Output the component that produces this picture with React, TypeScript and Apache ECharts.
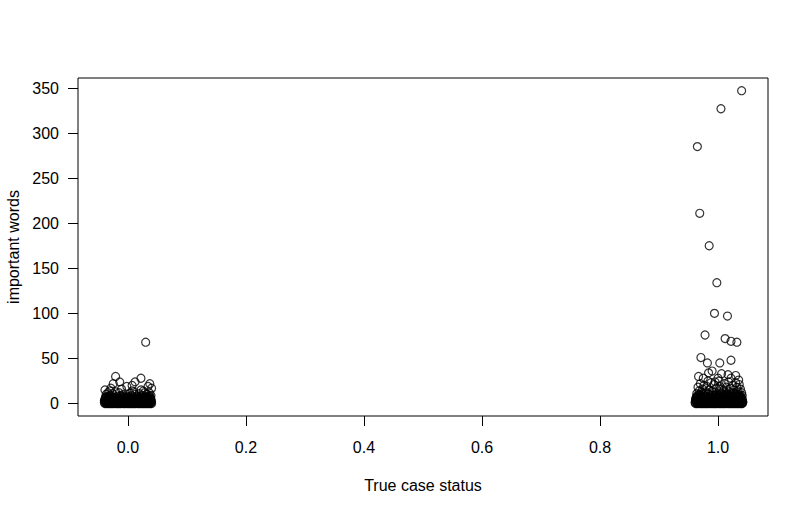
import React, { useEffect, useRef } from "react";
import * as echarts from "echarts";

const xTickValues = [0, 0.2, 0.4, 0.6, 0.8, 1.0];
const yTickValues = [0, 50, 100, 150, 200, 250, 300, 350];
const xAxisTitle = "True case status";
const yAxisTitle = "important words";

// True case status 0 (jittered): [status, important words]
const status0Points: [number, number][] = [
  [-0.039, 0], [-0.034, 0], [-0.030, 0], [-0.026, 0], [-0.021, 0], [-0.017, 0], [-0.013, 0],
  [-0.008, 0], [-0.004, 0], [0.001, 0], [0.005, 0], [0.009, 0], [0.013, 0], [0.018, 0],
  [0.022, 0], [0.026, 0], [0.030, 0], [0.034, 0], [0.038, 0], [-0.024, 0], [0.016, 0],
  [-0.037, 0], [-0.032, 0], [-0.028, 0], [-0.019, 0], [-0.015, 0], [-0.011, 0], [-0.006, 0],
  [-0.001, 0], [0.003, 0], [0.007, 0], [0.011, 0], [0.020, 0], [0.024, 0], [0.028, 0],
  [0.032, 0], [0.036, 0], [0.040, 0],
  [-0.037, 1], [-0.032, 1], [-0.027, 1], [-0.019, 1], [-0.011, 1], [-0.006, 1], [0.000, 1],
  [0.007, 1], [0.012, 1], [0.020, 1], [0.025, 1], [0.031, 1], [0.036, 1], [-0.015, 1], [0.003, 1],
  [-0.040, 1], [-0.035, 1], [-0.030, 1], [-0.024, 1], [-0.021, 1], [-0.013, 1], [-0.009, 1],
  [-0.003, 1], [0.005, 1], [0.010, 1], [0.015, 1], [0.018, 1], [0.023, 1], [0.028, 1],
  [0.034, 1], [0.039, 1],
  [-0.038, 2], [-0.029, 2], [-0.023, 2], [-0.016, 2], [-0.009, 2], [-0.002, 2], [0.004, 2],
  [0.010, 2], [0.017, 2], [0.024, 2], [0.029, 2], [0.037, 2],
  [-0.034, 2], [-0.026, 2], [-0.019, 2], [-0.012, 2], [-0.006, 2], [0.001, 2], [0.007, 2],
  [0.013, 2], [0.020, 2], [0.027, 2], [0.033, 2], [0.040, 2],
  [-0.036, 3], [-0.028, 3], [-0.020, 3], [-0.012, 3], [-0.005, 3], [0.002, 3], [0.008, 3],
  [0.015, 3], [0.021, 3], [0.028, 3], [0.035, 3],
  [-0.040, 3], [-0.032, 3], [-0.024, 3], [-0.016, 3], [-0.008, 3], [0.000, 3], [0.005, 3],
  [0.011, 3], [0.018, 3], [0.025, 3], [0.031, 3], [0.039, 3],
  [-0.039, 4], [-0.031, 4], [-0.022, 4], [-0.014, 4], [-0.003, 4], [0.006, 4], [0.013, 4],
  [0.023, 4], [0.032, 4], [0.038, 4],
  [-0.035, 4], [-0.027, 4], [-0.018, 4], [-0.009, 4], [0.001, 4], [0.009, 4], [0.017, 4],
  [0.027, 4], [0.035, 4],
  [-0.035, 5], [-0.025, 5], [-0.017, 5], [-0.007, 5], [0.004, 5], [0.011, 5], [0.019, 5],
  [0.027, 5], [0.036, 5],
  [-0.039, 5], [-0.030, 5], [-0.021, 5], [-0.012, 5], [-0.002, 5], [0.008, 5], [0.015, 5],
  [0.023, 5], [0.032, 5], [0.039, 5],
  [-0.038, 6], [-0.028, 6], [-0.010, 6], [0.000, 6], [0.014, 6], [0.026, 6], [0.033, 6],
  [-0.033, 6], [-0.023, 6], [-0.016, 6], [-0.005, 6], [0.005, 6], [0.010, 6], [0.020, 6],
  [0.030, 6], [0.038, 6],
  [-0.033, 7], [-0.021, 7], [-0.004, 7], [0.009, 7], [0.021, 7], [0.037, 7],
  [-0.038, 7], [-0.027, 7], [-0.012, 7], [0.002, 7], [0.015, 7], [0.028, 7], [0.033, 7],
  [-0.036, 8], [-0.018, 8], [-0.001, 8], [0.016, 8], [0.030, 8],
  [-0.030, 8], [-0.009, 8], [0.008, 8], [0.023, 8], [0.037, 8],
  [-0.030, 9], [-0.012, 9], [0.006, 9], [0.024, 9], [0.039, 9],
  [-0.037, 10], [-0.008, 10], [0.012, 10], [0.031, 10],
  [-0.026, 11], [0.003, 11], [0.019, 11],
  [-0.034, 12], [-0.015, 12], [0.028, 12], [0.036, 12],
  [-0.021, 13], [0.010, 13],
  [-0.031, 14], [0.007, 14], [0.026, 14],
  [-0.039, 15], [0.022, 15],
  [-0.011, 16],
  [-0.029, 17], [0.040, 17],
  [-0.002, 19], [0.034, 19],
  [0.007, 20],
  [-0.025, 22], [0.037, 22],
  [-0.014, 24], [0.012, 24],
  [0.022, 28],
  [-0.021, 30],
  [0.030, 68],
];

// True case status 1 (jittered): [status, important words]
const status1Points: [number, number][] = [
  [0.962, 0], [0.966, 0], [0.971, 0], [0.975, 0], [0.979, 0], [0.983, 0], [0.988, 0], [0.992, 0],
  [0.996, 0], [1.001, 0], [1.005, 0], [1.009, 0], [1.013, 0], [1.018, 0], [1.022, 0], [1.026, 0],
  [1.030, 0], [1.034, 0], [1.038, 0], [1.041, 0], [0.985, 0], [1.016, 0],
  [0.964, 0], [0.969, 0], [0.973, 0], [0.977, 0], [0.981, 0], [0.990, 0], [0.994, 0], [0.998, 0],
  [1.003, 0], [1.007, 0], [1.011, 0], [1.020, 0], [1.024, 0], [1.028, 0], [1.032, 0], [1.036, 0],
  [1.040, 0],
  [0.964, 1], [0.969, 1], [0.977, 1], [0.986, 1], [0.994, 1], [1.000, 1], [1.007, 1], [1.015, 1],
  [1.020, 1], [1.028, 1], [1.033, 1], [1.040, 1], [0.981, 1],
  [0.961, 1], [0.967, 1], [0.973, 1], [0.979, 1], [0.984, 1], [0.989, 1], [0.997, 1], [1.003, 1],
  [1.010, 1], [1.013, 1], [1.018, 1], [1.023, 1], [1.026, 1], [1.031, 1], [1.036, 1], [1.042, 1],
  [0.963, 2], [0.972, 2], [0.980, 2], [0.990, 2], [0.998, 2], [1.004, 2], [1.011, 2], [1.019, 2],
  [1.025, 2], [1.031, 2], [1.039, 2],
  [0.967, 2], [0.976, 2], [0.985, 2], [0.994, 2], [1.001, 2], [1.008, 2], [1.015, 2], [1.022, 2],
  [1.028, 2], [1.035, 2], [1.042, 2],
  [0.967, 3], [0.974, 3], [0.984, 3], [0.993, 3], [1.002, 3], [1.010, 3], [1.017, 3], [1.024, 3],
  [1.036, 3],
  [0.962, 3], [0.971, 3], [0.979, 3], [0.988, 3], [0.997, 3], [1.006, 3], [1.013, 3], [1.021, 3],
  [1.028, 3], [1.032, 3], [1.040, 3],
  [0.962, 4], [0.970, 4], [0.978, 4], [0.989, 4], [0.997, 4], [1.006, 4], [1.014, 4], [1.023, 4],
  [1.032, 4], [1.041, 4],
  [0.966, 4], [0.974, 4], [0.983, 4], [0.993, 4], [1.001, 4], [1.010, 4], [1.018, 4], [1.027, 4],
  [1.036, 4],
  [0.965, 5], [0.976, 5], [0.987, 5], [0.995, 5], [1.003, 5], [1.012, 5], [1.021, 5], [1.029, 5],
  [1.037, 5],
  [0.962, 5], [0.970, 5], [0.981, 5], [0.991, 5], [0.999, 5], [1.008, 5], [1.016, 5], [1.025, 5],
  [1.033, 5], [1.041, 5],
  [0.968, 6], [0.982, 6], [0.991, 6], [1.008, 6], [1.018, 6], [1.027, 6], [1.035, 6],
  [0.964, 6], [0.975, 6], [0.987, 6], [0.995, 6], [1.003, 6], [1.013, 6], [1.022, 6], [1.031, 6],
  [1.039, 6],
  [0.963, 7], [0.973, 7], [0.986, 7], [0.999, 7], [1.011, 7], [1.025, 7], [1.039, 7],
  [0.968, 7], [0.979, 7], [0.992, 7], [1.005, 7], [1.018, 7], [1.032, 7],
  [0.970, 8], [0.979, 8], [0.994, 8], [1.005, 8], [1.020, 8], [1.033, 8],
  [0.964, 8], [0.986, 8], [0.999, 8], [1.012, 8], [1.027, 8], [1.039, 8],
  [0.966, 9], [0.988, 9], [1.001, 9], [1.015, 9], [1.029, 9], [1.041, 9],
  [0.972, 9], [0.994, 9], [1.008, 9], [1.022, 9], [1.035, 9],
  [0.975, 10], [0.996, 10], [1.009, 10], [1.023, 10], [1.036, 10],
  [0.969, 10], [0.986, 10], [1.016, 10], [1.030, 10],
  [0.964, 11], [0.983, 11], [1.004, 11], [1.031, 11],
  [0.971, 12], [0.992, 12], [1.013, 12], [1.026, 12], [1.040, 12],
  [0.979, 13], [1.002, 13], [1.019, 13],
  [0.968, 14], [0.990, 14], [1.034, 14],
  [0.985, 15], [1.010, 15], [1.027, 15],
  [0.974, 16], [1.006, 16], [1.038, 16],
  [0.997, 17], [1.021, 17],
  [0.966, 18], [1.014, 18], [1.032, 18],
  [0.981, 19], [1.003, 19],
  [0.976, 20], [1.025, 20],
  [0.993, 21], [1.036, 21],
  [0.970, 22], [1.011, 22],
  [0.988, 23], [1.030, 23],
  [0.995, 24], [1.018, 24],
  [0.983, 25], [1.002, 25],
  [1.035, 26],
  [0.975, 28], [1.000, 28], [1.022, 28],
  [0.967, 30], [1.030, 31],
  [1.017, 32], [1.006, 33],
  [0.984, 34], [0.990, 36],
  [0.982, 45], [1.003, 45], [1.022, 48], [0.971, 51],
  [1.032, 68], [1.022, 69], [1.012, 72], [0.978, 76],
  [1.016, 97], [0.994, 100], [0.998, 134], [0.985, 175],
  [0.969, 211], [0.965, 285], [1.005, 327], [1.040, 347],
];

const FONT = "'Liberation Sans', Arial, Helvetica, sans-serif";

export default function App() {
  const ref = useRef<HTMLDivElement>(null);

  useEffect(() => {
    if (!ref.current) return;
    const chart = echarts.init(ref.current, undefined, { renderer: "svg" });
    const pointStyle = {
      color: "rgba(0,0,0,0)",
      borderColor: "#000",
      borderWidth: 1.2,
    };
    chart.setOption({
      animation: false,
      backgroundColor: "#ffffff",
      textStyle: { fontFamily: FONT },
      grid: {
        left: 78,
        right: 41,
        top: 78,
        bottom: 99,
        show: true,
        borderColor: "#000",
        borderWidth: 1,
        backgroundColor: "transparent",
      },
      xAxis: {
        type: "value",
        min: -0.0847,
        max: 1.0847,
        axisLine: { show: false, onZero: false },
        splitLine: { show: false },
        axisTick: {
          show: true,
          customValues: xTickValues,
          length: 10,
          lineStyle: { color: "#000", width: 1 },
        },
        axisLabel: {
          show: true,
          customValues: xTickValues,
          formatter: (v: number) => v.toFixed(1),
          color: "#000",
          fontSize: 16,
          fontFamily: FONT,
          margin: 23,
        },
      },
      yAxis: {
        type: "value",
        min: -13.87,
        max: 361.1,
        axisLine: { show: false, onZero: false },
        splitLine: { show: false },
        axisTick: {
          show: true,
          customValues: yTickValues,
          length: 10,
          lineStyle: { color: "#000", width: 1 },
        },
        axisLabel: {
          show: true,
          customValues: yTickValues,
          formatter: (v: number) => String(v),
          color: "#000",
          fontSize: 16,
          fontFamily: FONT,
          margin: 19,
        },
      },
      graphic: [
        {
          type: "text",
          x: 423,
          y: 485,
          style: {
            text: xAxisTitle,
            fill: "#000",
            font: `16px ${FONT}`,
            align: "center",
            verticalAlign: "middle",
          },
        },
        {
          type: "text",
          x: 13,
          y: 247,
          rotation: Math.PI / 2,
          style: {
            text: yAxisTitle,
            fill: "#000",
            font: `16px ${FONT}`,
            align: "center",
            verticalAlign: "middle",
          },
        },
      ],
      series: [
        {
          type: "scatter",
          data: status0Points,
          symbol: "circle",
          symbolSize: 8,
          itemStyle: pointStyle,
          emphasis: { disabled: true },
          silent: true,
        },
        {
          type: "scatter",
          data: status1Points,
          symbol: "circle",
          symbolSize: 8,
          itemStyle: pointStyle,
          emphasis: { disabled: true },
          silent: true,
        },
      ],
    });
    return () => chart.dispose();
  }, []);

  return (
    <div
      ref={ref}
      style={{ position: "absolute", left: 0, top: 0, width: 809, height: 515 }}
    />
  );
}
